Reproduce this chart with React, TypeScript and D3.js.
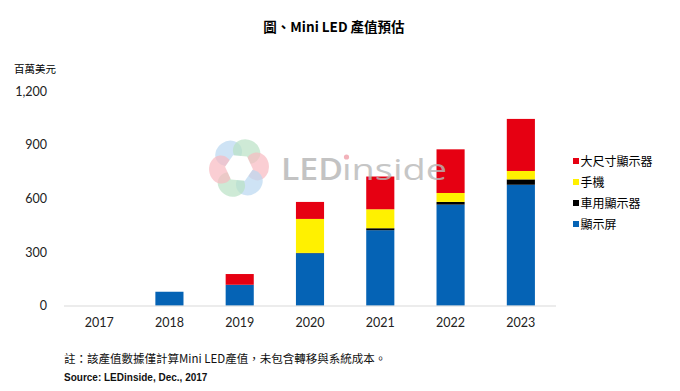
import React from 'react';
import * as d3 from 'd3';

const years = ['2017', '2018', '2019', '2020', '2021', '2022', '2023'];
const displayScreen = [0, 78, 117, 293, 422, 565, 676];
const carDisplay = [0, 0, 0, 2, 11, 15, 30];
const phone = [0, 0, 0, 190, 106, 50, 47];
const largeDisplay = [0, 0, 60, 95, 183, 244, 291];
const yTicks = [0, 300, 600, 900, 1200];

const seriesNames = ['顯示屏', '車用顯示器', '手機', '大尺寸顯示器'];
const seriesColors = ['#0563b5', '#000000', '#fff100', '#e60012'];
const seriesValues = [displayScreen, carDisplay, phone, largeDisplay];

const CJK = '"Noto Sans CJK TC", "Noto Sans CJK SC", sans-serif';
const NUM = 'Lato, "Open Sans", sans-serif';

export default function App() {
  const W = 680, H = 391;
  const x = d3.scaleBand<string>().domain(years).range([64, 556]).paddingInner(0.6).paddingOuter(0.3);
  const y = d3.scaleLinear().domain([0, 1200]).range([305.7, 91]);

  const table = years.map((yr, i) => {
    const row: any = { year: yr };
    seriesNames.forEach((s, k) => (row[s] = seriesValues[k][i]));
    return row;
  });
  const stacked = d3.stack().keys(seriesNames)(table);

  const legendOrder = [3, 2, 1, 0];

  // watermark flower
  const fc = { x: 239, y: 168 };
  const petalColors = ['#a9cfee', '#a8dcb6', '#f6aab2', '#a9cfee', '#a8dcb6', '#f6aab2'];
  const petalAngles = [-125, -65, -5, 55, 115, 175];

  return (
    <svg width={W} height={H} style={{ position: 'absolute', left: 0, top: 0, background: '#fff' }}>
      <rect x={0} y={0} width={W} height={H} fill="#fff" />
      <text x={334} y={32} textAnchor="middle" fontFamily={CJK} fontWeight="bold" fontSize={13.5} fill="#000">
        圖、Mini LED 產值預估
      </text>
      <text x={14} y={73} fontFamily={CJK} fontSize={10.5} fill="#000">百萬美元</text>

      {yTicks.map((t) => (
        <text key={t} x={47} y={y(t) + 4.5} textAnchor="end" fontFamily={NUM} fontSize={12.5} fill="#222">
          {d3.format(',')(t)}
        </text>
      ))}

      {stacked.map((layer, k) => (
        <g key={layer.key} fill={seriesColors[k]}>
          {layer.map((d, i) =>
            d[1] - d[0] > 0 ? (
              <rect
                key={i}
                x={x(years[i])}
                y={y(d[1])}
                width={x.bandwidth()}
                height={y(d[0]) - y(d[1])}
              />
            ) : null
          )}
        </g>
      ))}

      <line x1={64} x2={556} y1={306} y2={306} stroke="#d9d9d9" strokeWidth={1} />

      {years.map((yr) => (
        <text key={yr} x={(x(yr) || 0) + x.bandwidth() / 2} y={327} textAnchor="middle" fontFamily={NUM} fontSize={12.5} fill="#222">
          {yr}
        </text>
      ))}

      {/* watermark */}
      <g opacity={0.8}>
        {petalAngles.map((a, i) => {
          const r = (a * Math.PI) / 180;
          return (
            <ellipse
              key={i}
              cx={fc.x + 18 * Math.cos(r)}
              cy={fc.y + 18 * Math.sin(r)}
              rx={14}
              ry={12}
              transform={`rotate(${a + 90} ${fc.x + 18 * Math.cos(r)} ${fc.y + 18 * Math.sin(r)})`}
              fill={petalColors[i]}
              opacity={0.7}
            />
          );
        })}
        <polygon
          points={d3.range(6).map((i) => {
            const r = ((i * 60 + 5) * Math.PI) / 180;
            return `${fc.x + 14 * Math.cos(r)},${fc.y + 14 * Math.sin(r)}`;
          }).join(' ')}
          fill="#fff"
        />
        <text x={281} y={180} fontFamily='"Open Sans", sans-serif' fontWeight={600} fontSize={30} fill="#b5b5b5" textLength={62} lengthAdjust="spacingAndGlyphs">
          LED
        </text>
        <text x={342} y={180} fontFamily='"Open Sans", sans-serif' fontWeight={400} fontSize={30} fill="#b8b8b8" textLength={105} lengthAdjust="spacingAndGlyphs">
          ınside
        </text>
        <circle cx={346.5} cy={157} r={2.6} fill="#f0a0aa" />
      </g>

      {legendOrder.map((k, j) => (
        <g key={k} transform={`translate(573, ${161 + j * 21})`}>
          <rect x={0} y={-3} width={6} height={6} fill={seriesColors[k]} />
          <text x={7.5} y={4.5} fontFamily={CJK} fontSize={12} fill="#000">{seriesNames[k]}</text>
        </g>
      ))}

      <text x={64} y={363} fontFamily='"Noto Sans CJK TC", serif' fontSize={11.5} fill="#111">
        註：該產值數據僅計算Mini LED產值，未包含轉移與系統成本。
      </text>
      <text x={64} y={381} fontFamily='"Liberation Sans Narrow", "Liberation Sans", sans-serif' fontWeight="bold" fontSize={10} fill="#111">
        Source: LEDinside, Dec., 2017
      </text>
    </svg>
  );
}
